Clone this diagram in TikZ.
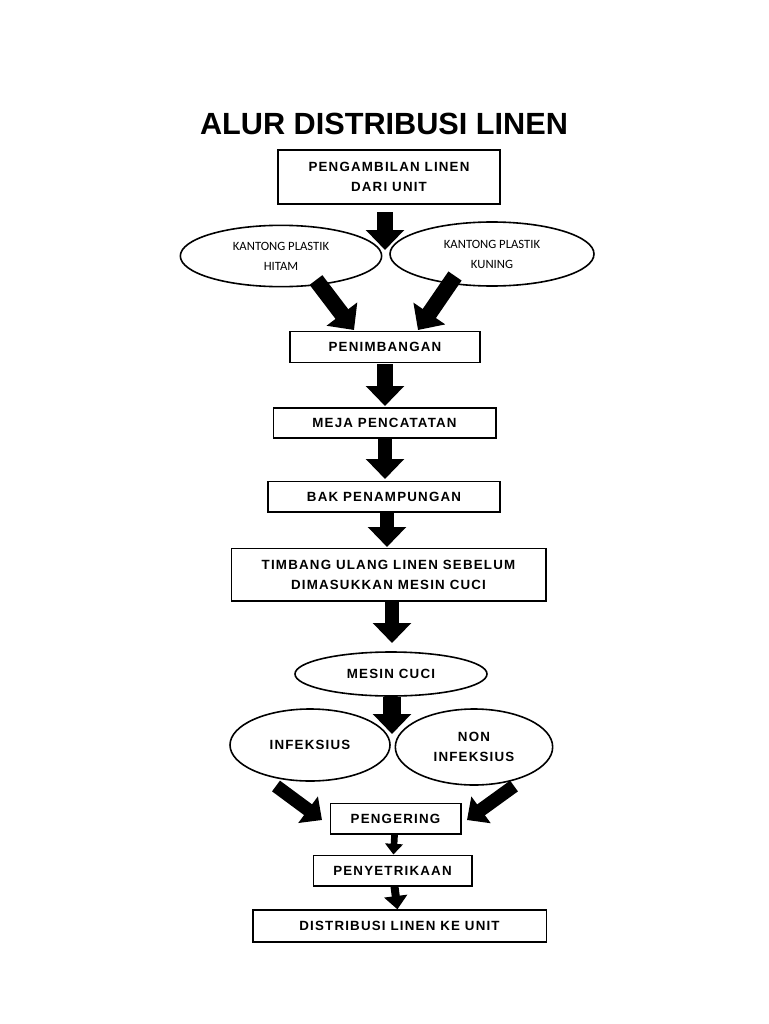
\documentclass[tikz,border=0pt]{standalone}
\usepackage{fontspec}
\setmainfont{Liberation Sans}
\newfontfamily\spc{Liberation Sans}[LetterSpace=9]
\newfontfamily\calfnt{Carlito}
\usetikzlibrary{shapes.geometric,arrows.meta}
\begin{document}
\begin{tikzpicture}[x=0.75pt,y=-0.75pt,
  box/.style={draw,line width=1pt,inner sep=0pt,align=center,font=\spc\bfseries\fontsize{10}{15}\selectfont},
  ell/.style={draw,ellipse,line width=1.2pt,inner sep=0pt,align=center},
  big/.style={line width=12pt,-{Triangle[width=28pt,length=15pt]}},
  small/.style={line width=5pt,-{Triangle[width=13pt,length=8pt]}}]
\useasboundingbox (0,0) rectangle (768,1024);
\node (title) at (384,124) {\bfseries\fontsize{23}{26}\selectfont ALUR DISTRIBUSI LINEN};
\node[box,minimum width=166.5pt,minimum height=40.5pt] (b1) at (389,177) {PENGAMBILAN LINEN\\DARI UNIT};
\node[ell,minimum width=151pt,minimum height=46pt,font=\calfnt\fontsize{9.5}{15}\selectfont] (e1) at (281,256) {KANTONG PLASTIK\\HITAM};
\node[ell,minimum width=153pt,minimum height=48pt,font=\calfnt\fontsize{9.5}{15}\selectfont] (e2) at (492,254) {KANTONG PLASTIK\\KUNING};
\node[box,minimum width=142.5pt,minimum height=23pt] (b2) at (385,347) {PENIMBANGAN};
\node[box,minimum width=167pt,minimum height=22.5pt] (b3) at (384.5,423) {MEJA PENCATATAN};
\node[box,minimum width=174pt,minimum height=23pt] (b4) at (384,496.5) {BAK PENAMPUNGAN};
\node[box,minimum width=236pt,minimum height=39.5pt] (b5) at (388.5,574.5) {TIMBANG ULANG LINEN SEBELUM\\DIMASUKKAN MESIN CUCI};
\node[ell,minimum width=144pt,minimum height=33pt,font=\spc\bfseries\fontsize{10}{15}\selectfont] (e3) at (391,674) {MESIN CUCI};
\node[ell,minimum width=120pt,minimum height=54pt,font=\spc\bfseries\fontsize{10}{15}\selectfont] (e4) at (310,745) {INFEKSIUS};
\node[ell,minimum width=118pt,minimum height=57pt,font=\spc\bfseries\fontsize{10}{15}\selectfont] (e5) at (474,747) {NON\\INFEKSIUS};
\node[box,minimum width=98pt,minimum height=23pt] (b6) at (395.5,818.5) {PENGERING};
\node[box,minimum width=119pt,minimum height=23pt] (b7) at (392.5,870.5) {PENYETRIKAAN};
\node[box,minimum width=220pt,minimum height=24pt] (b8) at (399.5,926) {DISTRIBUSI LINEN KE UNIT};
\coordinate (a1s) at (385,212); \coordinate (a1e) at (385,250);
\draw[big] (a1s) -- (a1e);
\coordinate (a2s) at (316,280); \coordinate (a2e) at (354,330);
\draw[big] (a2s) -- (a2e);
\coordinate (a3s) at (455,276); \coordinate (a3e) at (418,330);
\draw[big] (a3s) -- (a3e);
\coordinate (a4s) at (385,364); \coordinate (a4e) at (385,406);
\draw[big] (a4s) -- (a4e);
\coordinate (a5s) at (385,439); \coordinate (a5e) at (385,479);
\draw[big,line width=10pt] (a5s) -- (a5e);
\coordinate (a6s) at (387,513); \coordinate (a6e) at (387,547);
\draw[big,line width=10pt] (a6s) -- (a6e);
\coordinate (a7s) at (392,602); \coordinate (a7e) at (392,643);
\draw[big,line width=10pt] (a7s) -- (a7e);
\coordinate (a8s) at (392,697); \coordinate (a8e) at (392,734);
\draw[big,line width=14pt] (a8s) -- (a8e);
\coordinate (a9s) at (276,786); \coordinate (a9e) at (322,820);
\draw[big,line width=10pt,-{Triangle[width=24pt,length=13pt]}] (a9s) -- (a9e);
\coordinate (a10s) at (514,786); \coordinate (a10e) at (467,820);
\draw[big,line width=10pt,-{Triangle[width=24pt,length=13pt]}] (a10s) -- (a10e);
\draw[small] (b6) -- (b7);
\draw[small,line width=6pt,-{Triangle[width=17pt,length=10pt]}] (b7) -- (b8);
\end{tikzpicture}
\end{document}
